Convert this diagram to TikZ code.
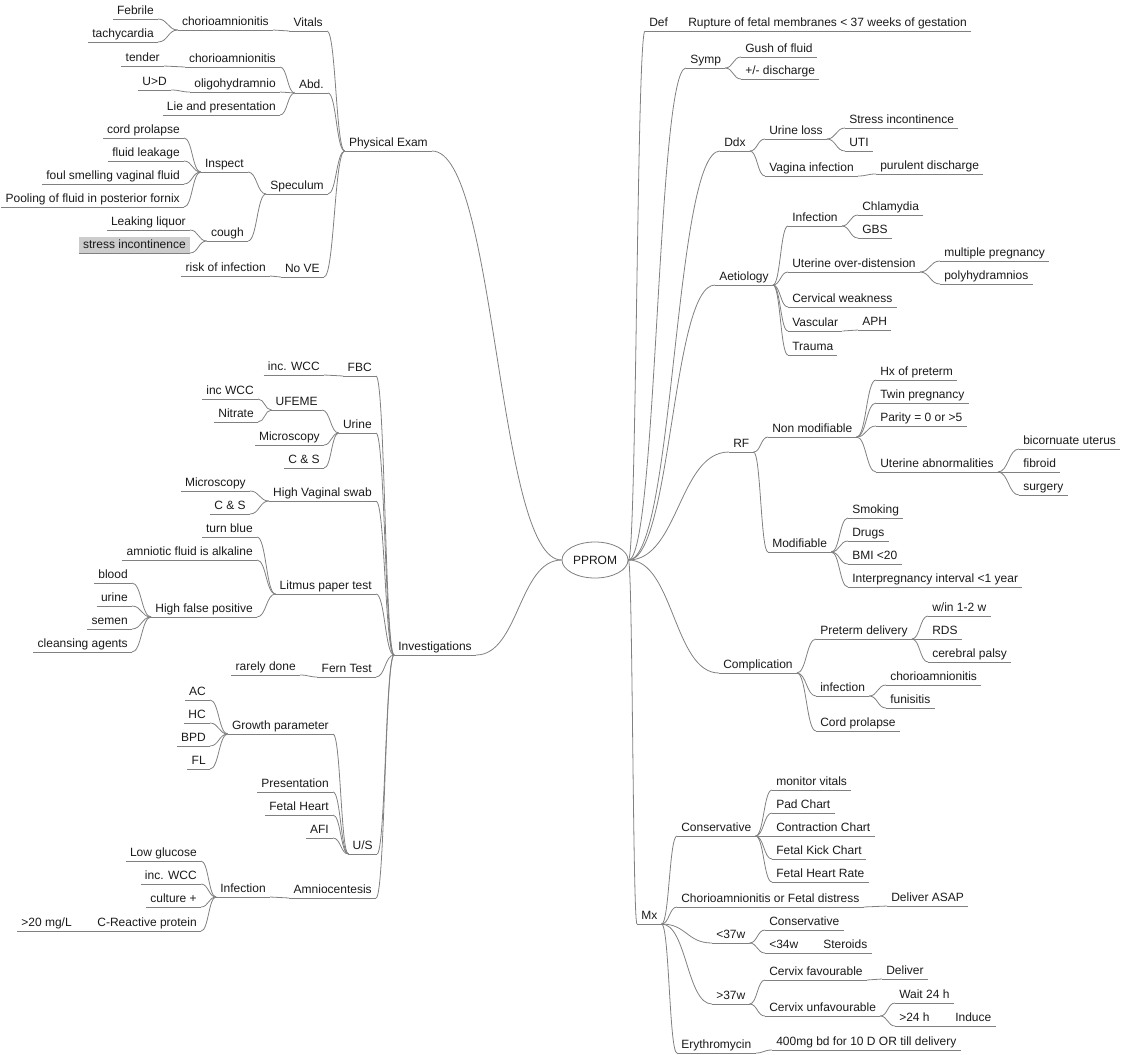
\documentclass[tikz,border=0pt]{standalone}
\usepackage{fontspec}
\setmainfont{Liberation Sans}
\usetikzlibrary{shapes.geometric,calc}
\definecolor{lg}{HTML}{808080}
\definecolor{tx}{HTML}{1A1A1A}
\tikzset{
  lab/.style={inner xsep=3pt,inner ysep=1.5pt,text height=7pt,text depth=2pt,
    font=\fontsize{9}{10}\selectfont,text=tx},
  con/.style={draw=lg,line width=0.6pt}
}
\newcommand\uline[1]{\draw[con] (#1.south west)--(#1.south east);}
\newcommand\nodeR[4]{\node[lab,anchor=south west] (#1) at (#2,#3) {#4};\uline{#1}}
\newcommand\nodeL[4]{\node[lab,anchor=south east] (#1) at (#2,#3) {#4};\uline{#1}}
\newcommand\conR[2]{\draw[con] let \p1=(#1.south east),\p2=(#2.south west) in (\p1) .. controls ({\x1+0.5*(\x2-\x1)},\y1) and ({\x2-0.5*(\x2-\x1)},\y2) .. (\p2);}
\newcommand\conL[2]{\draw[con] let \p1=(#1.south west),\p2=(#2.south east) in (\p1) .. controls ({\x1+0.5*(\x2-\x1)},\y1) and ({\x2-0.5*(\x2-\x1)},\y2) .. (\p2);}
\newcommand\rootR[1]{\draw[con] let \p1=(root.east),\p2=(#1.south west) in (\p1) .. controls ({\x1+0.5*(\x2-\x1)},\y1) and ({\x2-0.5*(\x2-\x1)},\y2) .. (\p2);}
\newcommand\rootL[1]{\draw[con] let \p1=(root.west),\p2=(#1.south east) in (\p1) .. controls ({\x1+0.5*(\x2-\x1)},\y1) and ({\x2-0.5*(\x2-\x1)},\y2) .. (\p2);}
\begin{document}
\begin{tikzpicture}[x=0.75pt,y=-0.75pt]
\useasboundingbox (0,0) rectangle (1121,1054);
\node[ellipse,draw=lg,line width=0.6pt,minimum width=43pt,minimum height=27pt,inner sep=1pt,font=\fontsize{9}{10}\selectfont,text=tx] (root) at (595,560) {PPROM};
% right side
\nodeR{def}{645}{31}{Def}
\nodeR{rupt}{684}{31}{Rupture of fetal membranes < 37 weeks of gestation}
\nodeR{symp}{686}{68}{Symp}
\nodeR{gush}{741}{57}{Gush of fluid}
\nodeR{disch}{741}{79}{+/- discharge}
\nodeR{ddx}{720}{151}{Ddx}
\nodeR{urine}{765}{139}{Urine loss}
\nodeR{stress}{845}{128}{Stress incontinence}
\nodeR{uti}{845}{151}{UTI}
\nodeR{vag}{765}{176}{Vagina infection}
\nodeR{pur}{876}{174}{purulent discharge}
\nodeR{aet}{715}{285}{Aetiology}
\nodeR{inf}{788}{226}{Infection}
\nodeR{chl}{858}{215}{Chlamydia}
\nodeR{gbs}{858}{238}{GBS}
\nodeR{uod}{788}{272}{Uterine over-distension}
\nodeR{mp}{940}{261}{multiple pregnancy}
\nodeR{poly}{940}{284}{polyhydramnios}
\nodeR{cw}{788}{307}{Cervical weakness}
\nodeR{vasc}{788}{331}{Vascular}
\nodeR{aph}{858}{330}{APH}
\nodeR{trauma}{788}{355}{Trauma}
\nodeR{rf}{729}{452}{RF}
\nodeR{nm}{768}{437}{Non modifiable}
\nodeR{hx}{876}{380}{Hx of preterm}
\nodeR{twin}{876}{403}{Twin pregnancy}
\nodeR{parity}{876}{426}{Parity = 0 or >5}
\nodeR{ua}{876}{472}{Uterine abnormalities}
\nodeR{bic}{1019}{449}{bicornuate uterus}
\nodeR{fib}{1019}{472}{fibroid}
\nodeR{surg}{1019}{495}{surgery}
\nodeR{mod}{768}{552}{Modifiable}
\nodeR{smok}{848}{518}{Smoking}
\nodeR{drugs}{848}{541}{Drugs}
\nodeR{bmi}{848}{564}{BMI <20}
\nodeR{inter}{848}{587}{Interpregnancy interval <1 year}
\nodeR{comp}{719}{673}{Complication}
\nodeR{pd}{816}{639}{Preterm delivery}
\nodeR{win}{928}{616}{w/in 1-2 w}
\nodeR{rds}{928}{639}{RDS}
\nodeR{cpal}{928}{662}{cerebral palsy}
\nodeR{cinf}{816}{696}{infection}
\nodeR{chorioB}{886}{685}{chorioamnionitis}
\nodeR{fun}{886}{708}{funisitis}
\nodeR{cp}{816}{731}{Cord prolapse}
\nodeR{mx}{637}{924}{Mx}
\nodeR{cons}{677}{836}{Conservative}
\nodeR{mv}{772}{790}{monitor vitals}
\nodeR{pad}{772}{813}{Pad Chart}
\nodeR{cc}{772}{836}{Contraction Chart}
\nodeR{fkc}{772}{859}{Fetal Kick Chart}
\nodeR{fhr}{772}{882}{Fetal Heart Rate}
\nodeR{chfd}{677}{907}{Chorioamnionitis or Fetal distress}
\nodeR{asap}{887}{906}{Deliver ASAP}
\nodeR{lt37}{712}{943}{<37w}
\nodeR{consB}{765}{930}{Conservative}
\nodeR{lt34}{765}{953}{<34w}
\nodeR{ster}{819}{953}{Steroids}
\nodeR{gt37}{712}{1004}{>37w}
\nodeR{cfav}{765}{980}{Cervix favourable}
\nodeR{del}{882}{979}{Deliver}
\nodeR{cunf}{765}{1016}{Cervix unfavourable}
\nodeR{wait}{895}{1003}{Wait 24 h}
\nodeR{gt24}{895}{1026}{>24 h}
\nodeR{ind}{951}{1026}{Induce}
\nodeR{ery}{677}{1053}{Erythromycin}
\nodeR{dose}{772}{1050}{400mg bd for 10 D OR till delivery}
\foreach \c in {def,symp,ddx,aet,rf,comp,mx} {\rootR{\c}}
\conR{def}{rupt}\conR{symp}{gush}\conR{symp}{disch}
\conR{ddx}{urine}\conR{ddx}{vag}\conR{urine}{stress}\conR{urine}{uti}\conR{vag}{pur}
\conR{aet}{inf}\conR{aet}{uod}\conR{aet}{cw}\conR{aet}{vasc}\conR{aet}{trauma}
\conR{inf}{chl}\conR{inf}{gbs}\conR{uod}{mp}\conR{uod}{poly}\conR{vasc}{aph}
\conR{rf}{nm}\conR{rf}{mod}\conR{nm}{hx}\conR{nm}{twin}\conR{nm}{parity}\conR{nm}{ua}
\conR{ua}{bic}\conR{ua}{fib}\conR{ua}{surg}
\conR{mod}{smok}\conR{mod}{drugs}\conR{mod}{bmi}\conR{mod}{inter}
\conR{comp}{pd}\conR{comp}{cinf}\conR{comp}{cp}\conR{pd}{win}\conR{pd}{rds}\conR{pd}{cpal}
\conR{cinf}{chorioB}\conR{cinf}{fun}
\conR{mx}{cons}\conR{mx}{chfd}\conR{mx}{lt37}\conR{mx}{gt37}\conR{mx}{ery}
\conR{cons}{mv}\conR{cons}{pad}\conR{cons}{cc}\conR{cons}{fkc}\conR{cons}{fhr}
\conR{chfd}{asap}\conR{lt37}{consB}\conR{lt37}{lt34}\conR{lt34}{ster}
\conR{gt37}{cfav}\conR{gt37}{cunf}\conR{cfav}{del}\conR{cunf}{wait}\conR{cunf}{gt24}\conR{gt24}{ind}
\conR{ery}{dose}
% left side
\nodeL{pe}{432}{151}{Physical Exam}
\nodeL{vit}{327}{31}{Vitals}
\nodeL{chA}{273}{30}{chorioamnionitis}
\nodeL{feb}{158}{19}{Febrile}
\nodeL{tach}{158}{42}{tachycardia}
\nodeL{abd}{328}{93}{Abd.}
\nodeL{chC}{280}{67}{chorioamnionitis}
\nodeL{tend}{164}{66}{tender}
\nodeL{olig}{280}{92}{oligohydramnio}
\nodeL{ud}{171}{90}{U>D}
\nodeL{lie}{280}{115}{Lie and presentation}
\nodeL{spec}{328}{194}{Speculum}
\nodeL{insp}{248}{172}{Inspect}
\nodeL{cordp}{184}{138}{cord prolapse}
\nodeL{fl}{184}{161}{fluid leakage}
\nodeL{foul}{184}{184}{foul smelling vaginal fluid}
\nodeL{pool}{184}{207}{Pooling of fluid in posterior fornix}
\nodeL{cough}{248}{241}{cough}
\nodeL{leak}{190}{230}{Leaking liquor}
\node[lab,anchor=south east,fill=gray!40] (stri) at (190,253) {stress incontinence};\uline{stri}
\nodeL{nove}{324}{277}{No VE}
\nodeL{risk}{270}{276}{risk of infection}
\nodeL{inv}{476}{655}{Investigations}
\nodeL{fbc}{376}{376}{FBC}
\nodeL{incw}{324}{375}{inc. WCC}
\nodeL{ur}{376}{433}{Urine}
\nodeL{ufeme}{322}{410}{UFEME}
\nodeL{incwB}{258}{399}{inc WCC}
\nodeL{nitr}{258}{422}{Nitrate}
\nodeL{micro}{324}{445}{Microscopy}
\nodeL{cs}{324}{468}{C \& S}
\nodeL{hvs}{376}{501}{High Vaginal swab}
\nodeL{microB}{250}{491}{Microscopy}
\nodeL{csB}{250}{514}{C \& S}
\nodeL{lit}{376}{594}{Litmus paper test}
\nodeL{blue}{257}{537}{turn blue}
\nodeL{alk}{257}{560}{amniotic fluid is alkaline}
\nodeL{hfp}{257}{617}{High false positive}
\nodeL{blood}{132}{583}{blood}
\nodeL{urB}{132}{606}{urine}
\nodeL{semen}{132}{629}{semen}
\nodeL{clean}{132}{652}{cleansing agents}
\nodeL{fern}{376}{677}{Fern Test}
\nodeL{rare}{300}{675}{rarely done}
\nodeL{us}{377}{854}{U/S}
\nodeL{gp}{333}{734}{Growth parameter}
\nodeL{ac}{210}{700}{AC}
\nodeL{hc}{210}{723}{HC}
\nodeL{bpd}{210}{746}{BPD}
\nodeL{flB}{210}{769}{FL}
\nodeL{pres}{333}{792}{Presentation}
\nodeL{fh}{333}{815}{Fetal Heart}
\nodeL{afi}{333}{838}{AFI}
\nodeL{amn}{376}{898}{Amniocentesis}
\nodeL{infL}{270}{897}{Infection}
\nodeL{lowg}{201}{861}{Low glucose}
\nodeL{incwC}{201}{884}{inc. WCC}
\nodeL{cult}{201}{907}{culture +}
\nodeL{crp}{201}{931}{C-Reactive protein}
\nodeL{gt20}{76}{931}{>20 mg/L}
\rootL{pe}\rootL{inv}
\conL{pe}{vit}\conL{pe}{abd}\conL{pe}{spec}\conL{pe}{nove}
\conL{vit}{chA}\conL{chA}{feb}\conL{chA}{tach}
\conL{abd}{chC}\conL{abd}{olig}\conL{abd}{lie}\conL{chC}{tend}\conL{olig}{ud}
\conL{spec}{insp}\conL{spec}{cough}\conL{insp}{cordp}\conL{insp}{fl}\conL{insp}{foul}\conL{insp}{pool}
\conL{cough}{leak}\conL{cough}{stri}\conL{nove}{risk}
\conL{inv}{fbc}\conL{inv}{ur}\conL{inv}{hvs}\conL{inv}{lit}\conL{inv}{fern}\conL{inv}{us}\conL{inv}{amn}
\conL{fbc}{incw}\conL{ur}{ufeme}\conL{ur}{micro}\conL{ur}{cs}\conL{ufeme}{incwB}\conL{ufeme}{nitr}
\conL{hvs}{microB}\conL{hvs}{csB}
\conL{lit}{blue}\conL{lit}{alk}\conL{lit}{hfp}
\conL{hfp}{blood}\conL{hfp}{urB}\conL{hfp}{semen}\conL{hfp}{clean}
\conL{fern}{rare}
\conL{us}{gp}\conL{us}{pres}\conL{us}{fh}\conL{us}{afi}
\conL{gp}{ac}\conL{gp}{hc}\conL{gp}{bpd}\conL{gp}{flB}
\conL{amn}{infL}\conL{infL}{lowg}\conL{infL}{incwC}\conL{infL}{cult}\conL{infL}{crp}\conL{crp}{gt20}
\end{tikzpicture}
\end{document}
